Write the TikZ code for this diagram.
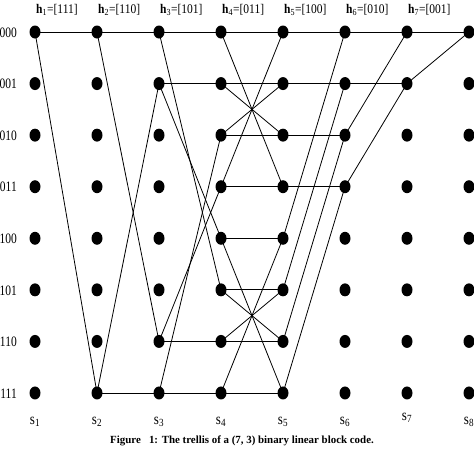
\documentclass[tikz,border=0pt]{standalone}
\usepackage{fontspec}
\setmainfont{Liberation Serif}
\usetikzlibrary{shapes.geometric}

\begin{document}
\begin{tikzpicture}[x=1pt,y=-1pt]
    \useasboundingbox (0,0) rectangle (474,450);
    \tikzset{
        state/.style={ellipse,fill=black,inner sep=0pt,minimum width=11pt,minimum height=13pt},
        edge/.style={line width=0.8pt}
    }
    \begin{scope}
        \tikzstyle{every node}=[state]
        \foreach \c in {1,...,8} {
            \foreach \st/\r in {000/0,001/1,010/2,011/3,100/4,101/5,110/6,111/7} {
                \node (v\c_\st) at (35+62*\c-62, 32+51.57*\r) {};
            }
        }
    \end{scope}

    \begin{scope}[every path/.append style={edge}]
        \foreach \a/\b in {000/000,000/111}
            \draw (v1_\a.center) -- (v2_\b.center);
        \foreach \a/\b in {000/000,000/110,111/111,111/001}
            \draw (v2_\a.center) -- (v3_\b.center);
        \foreach \a/\b in {000/000,000/101,001/001,001/100,110/110,110/011,111/111,111/010}
            \draw (v3_\a.center) -- (v4_\b.center);
        \foreach \a in {000,001,010,011,100,101,110,111}
            \draw (v4_\a.center) -- (v5_\a.center);
        \foreach \a/\b in {000/011,001/010,010/001,011/000,100/111,101/110,110/101,111/100}
            \draw (v4_\a.center) -- (v5_\b.center);
        \foreach \a/\b in {000/000,100/000,001/001,101/001,010/010,110/010,011/011,111/011}
            \draw (v5_\a.center) -- (v6_\b.center);
        \foreach \a/\b in {000/000,010/000,001/001,011/001}
            \draw (v6_\a.center) -- (v7_\b.center);
        \foreach \a/\b in {000/000,001/000}
            \draw (v7_\a.center) -- (v8_\b.center);
    \end{scope}

    \foreach \st/\r in {000/0,001/1,010/2,011/3,100/4,101/5,110/6,111/7} {
        \node[anchor=east,inner sep=0pt,font=\fontsize{11.5}{13}\selectfont] (lab_\st) at (17, 32.5+51.57*\r) {\scalebox{1}[1.25]{\st}};
    }
    \foreach \c/\yy in {1/422,2/422,3/422,4/422,5/422,6/422,7/418,8/422} {
        \node[inner sep=0pt,font=\fontsize{13}{15}\selectfont] (s_\c) at (35+62*\c-62, \yy) {\scalebox{1}[1.2]{s\textsubscript{\c}}};
    }
    \foreach \c/\h in {1/111,2/110,3/101,4/011,5/100,6/010,7/001} {
        \node[anchor=west,inner sep=0pt,font=\fontsize{11.5}{13}\selectfont] (h_\c) at (35+62*\c-62+1, 10) {\scalebox{1}[1.15]{\textbf{h}\textsubscript{\c}=[\h]}};
    }
    \node[inner sep=0pt,font=\fontsize{10.9}{12}\selectfont\bfseries] (caption) at (242,441) {Figure\ \ \ 1: The trellis of a (7, 3) binary linear block code.};
\end{tikzpicture}
\end{document}
